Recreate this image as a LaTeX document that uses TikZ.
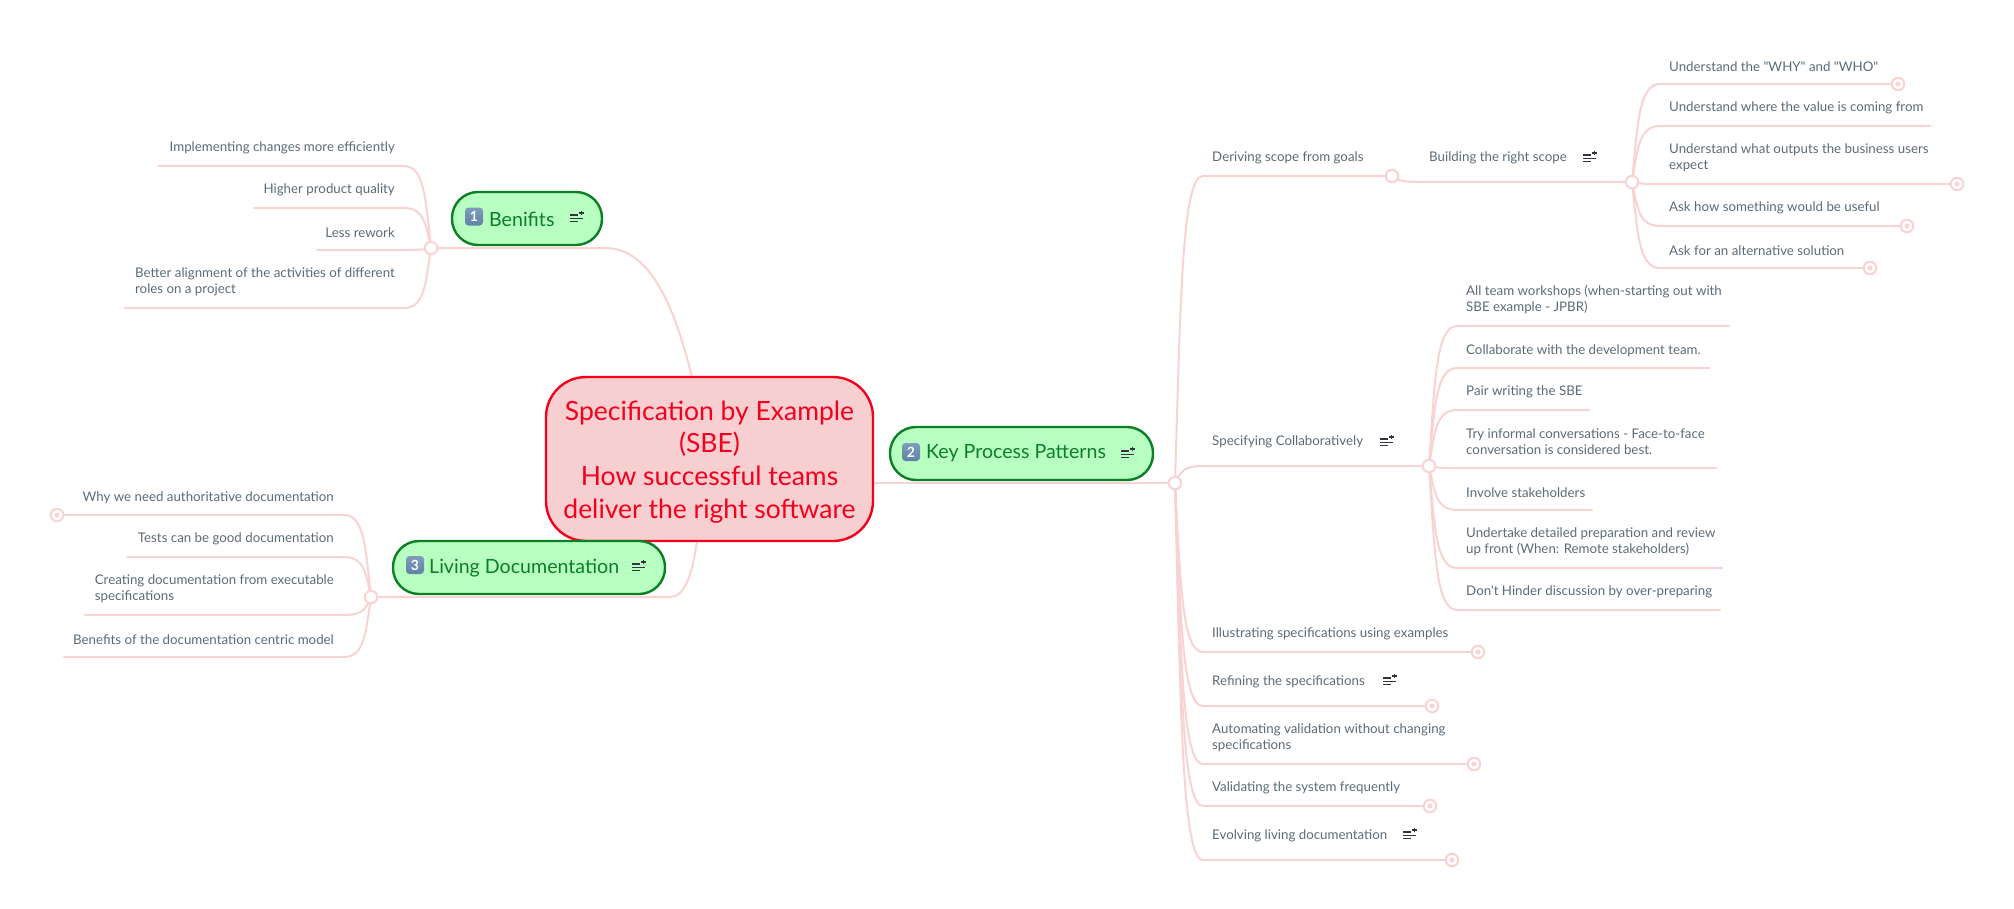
\documentclass[tikz,border=0pt]{standalone}
\usepackage{fontspec}
\setmainfont{Lato}
\newfontfamily\plainq{Lato}
\usetikzlibrary{calc,backgrounds}
\definecolor{linkpink}{HTML}{F9D2D2}
\definecolor{leafgrey}{HTML}{5B6B76}
\definecolor{rootfill}{HTML}{F8CFD1}
\definecolor{rootred}{HTML}{F2001E}
\definecolor{mainfill}{HTML}{B8FFC2}
\definecolor{maingreen}{HTML}{0B7F24}
\definecolor{icondark}{HTML}{33333F}
\definecolor{captop}{HTML}{7F9CBA}
\definecolor{capbot}{HTML}{5F82A6}
\tikzset{
  x=1pt,y=-1pt,
  link/.style={draw=linkpink,line width=2pt,line cap=round},
  hubnode/.style={circle,draw=linkpink,line width=2pt,fill=white,minimum size=12.5pt,inner sep=0pt},
  enddot/.style={circle,draw=linkpink,line width=2pt,fill=white,minimum size=12.5pt,inner sep=0pt},
  pip/.style={circle,fill=linkpink,minimum size=5pt,inner sep=0pt},
  leaftext/.style={font=\fontsize{13.3}{16}\selectfont,text=leafgrey,inner sep=0pt,align=left,yshift=-0.8pt},
  righttext/.style={leaftext,anchor=east,align=left},
  lefttext/.style={leaftext,anchor=west},
  rootnode/.style={draw=rootred,line width=2.4pt,fill=rootfill,rounded corners=40pt,
    minimum width=327pt,minimum height=164pt,inner sep=0pt},
  roottext/.style={text=rootred,align=center,inner sep=0pt,font=\fontsize{26.5}{32.8}\selectfont},
  mainnode/.style={draw=maingreen,line width=2.4pt,fill=mainfill,rounded corners=26pt,minimum height=53pt,inner sep=0pt},
  maintext/.style={text=maingreen,font=\fontsize{19.6}{24}\selectfont,inner sep=0pt,anchor=west},
  keycap/.style={rounded corners=3.5pt,top color=captop,bottom color=capbot,minimum size=18pt,inner sep=0pt,
    text=white,font=\fontsize{14}{14}\bfseries\selectfont},
}
% curved connector from a hub to the start of a branch
\newcommand{\conn}[2]{\begin{pgfonlayer}{background}
  \draw[link] let \p1=(#1.center),\p2=(#2) in (#1.center) .. controls ({\x1+0.2*(\x2-\x1)},{\y1+0.6*(\y2-\y1)}) and ({\x1+0.25*(\x2-\x1)},{\y2}) .. (#2);
\end{pgfonlayer}}
% note icon: three bars and a plus; #1 = left, #2 = top
\newcommand{\noteicon}[2]{%
  \draw[icondark,line width=1.3pt] (#1,#2+3) -- ++(8,0) (#1,#2+6.4) -- ++(13,0) (#1,#2+9.8) -- ++(8,0);
  \draw[icondark,line width=1.1pt] (#1+9.3,#2+1) -- ++(4.6,0) (#1+11.6,#2-1.3) -- ++(0,4.6);}
% branch under a text: #1 name, #2 hub, #3 x start, #4 x end, #5 y line
\newcommand{\branch}[5]{%
  \coordinate (#1s) at (#3,#5);
  \coordinate (#1e) at (#4,#5);
  \conn{#2}{#1s}
  \begin{pgfonlayer}{background}\draw[link] (#1s) -- (#1e);\end{pgfonlayer}}
\newcommand{\branchdot}[1]{\node[enddot] (#1d) at (#1e) {}; \node[pip] (#1p) at (#1e) {};}
\begin{document}
\begin{tikzpicture}
\useasboundingbox (0,0) rectangle (2014,908);
% main nodes
\node[rootnode] (root) at (709.5,459) {};
\node[roottext] (roott) at (709.5,462) {Specification by Example\\(SBE)\\How successful teams\\deliver the right software};
\node[mainnode,minimum width=150pt] (ben) at (527,218.5) {};
\node[mainnode,minimum width=263pt] (key) at (1021.5,453.5) {};
\node[mainnode,minimum width=272pt] (liv) at (529,567.5) {};
\node[keycap] (cap1) at (474,216.5) {1};
\node[keycap] (cap2) at (911,452) {2};
\node[keycap] (cap3) at (415,565) {3};
\node[maintext] (ben1) at (489,219) {Benifits};
\node[maintext] (key1) at (926,453) {Key Process Patterns};
\node[maintext] (liv1) at (429,568) {Living Documentation};
\noteicon{570}{212}
\noteicon{1121}{448}
\noteicon{632}{561}
% hubs
\node[hubnode] (hubB) at (431,248) {};
\node[hubnode] (hubL) at (371,597) {};
\node[hubnode] (hubK) at (1175,483) {};
\node[hubnode] (hubD) at (1392,176) {};
\node[hubnode] (hubS) at (1632,182) {};
\node[hubnode] (hubC) at (1429,466) {};
% root connectors
\coordinate (benA) at (605,248);
\coordinate (benB) at (692,377);
\coordinate (livA) at (670,597);
\coordinate (livB) at (697,541);
\begin{pgfonlayer}{background}
\draw[link] (hubB.center) -- (benA) .. controls (650,248) and (674,305) .. (benB);
\draw[link] (hubL.center) -- (livA) .. controls (684,597) and (692,577) .. (livB);
\draw[link] (root.east |- hubK) -- (hubK.center);
\end{pgfonlayer}
% Benifits leaves
\branch{b1}{hubB}{404}{158}{166}
\branch{b2}{hubB}{404}{254}{208}
\branch{b3}{hubB}{404}{317}{250}
\branch{b4}{hubB}{404}{125}{308}
\node[righttext] (tb1) at (395,147.5) {Implementing changes more efficiently};
\node[righttext] (tb2) at (395,189.5) {Higher product quality};
\node[righttext] (tb3) at (395,231.5) {Less rework};
\node[righttext] (tb4) at (395,281) {Better alignment of the activities of different\\roles on a project};
% Living leaves
\branch{l1}{hubL}{344}{57}{515}
\branch{l2}{hubL}{344}{127}{557}
\branch{l3}{hubL}{344}{85}{615}
\branch{l4}{hubL}{344}{64}{657}
\branchdot{l1}
\node[righttext] (tl1) at (334,496.5) {Why we need authoritative documentation};
\node[righttext] (tl2) at (334,538.5) {Tests can be good documentation};
\node[righttext] (tl3) at (334,588) {Creating documentation from executable\\specifications};
\node[righttext] (tl4) at (334,638.5) {Benefits of the documentation centric model};
% Key Process children
\branch{k1}{hubK}{1203}{1392}{176}
\branch{k2}{hubK}{1203}{1429}{466}
\branch{k3}{hubK}{1203}{1478}{652}
\branch{k4}{hubK}{1203}{1432}{706}
\branch{k5}{hubK}{1203}{1474}{764}
\branch{k6}{hubK}{1203}{1430}{806}
\branch{k7}{hubK}{1203}{1452}{860}
\branchdot{k3}\branchdot{k4}\branchdot{k5}\branchdot{k6}\branchdot{k7}
\node[lefttext] (tk1) at (1212,157.5) {Deriving scope from goals};
\node[lefttext] (tk2) at (1212,441.5) {Specifying Collaboratively};
\node[lefttext] (tk3) at (1212,633.5) {Illustrating specifications using examples};
\node[lefttext] (tk4) at (1212,681.5) {Refining the specifications};
\node[lefttext] (tk5) at (1212,737) {Automating validation without changing\\specifications};
\node[lefttext] (tk6) at (1212,787.5) {Validating the system frequently};
\node[lefttext] (tk7) at (1212,835.5) {Evolving living documentation};
\noteicon{1380}{436}
\noteicon{1383}{675}
\noteicon{1403}{829}
% Deriving -> Building
\coordinate (dA) at (1420,182);
\conn{hubD}{dA}
\begin{pgfonlayer}{background}\draw[link] (dA) -- (hubS.center);\end{pgfonlayer}
\node[lefttext] (tbu) at (1429,157.5) {Building the right scope};
\noteicon{1583}{152}
% Building leaves
\branch{s1}{hubS}{1660}{1898}{84}
\branch{s2}{hubS}{1660}{1930}{126}
\branch{s3}{hubS}{1660}{1957}{184}
\branch{s4}{hubS}{1660}{1907}{226}
\branch{s5}{hubS}{1660}{1870}{268}
\branchdot{s1}\branchdot{s3}\branchdot{s4}\branchdot{s5}
\node[lefttext] (ts1) at (1669,65.5) {{\plainq Understand the "WHY" and "WHO"}};
\node[lefttext] (ts2) at (1669,107.5) {Understand where the value is coming from};
\node[lefttext] (ts3) at (1669,157) {Understand what outputs the business users\\expect};
\node[lefttext] (ts4) at (1669,207.5) {Ask how something would be useful};
\node[lefttext] (ts5) at (1669,249.5) {Ask for an alternative solution};
% Collaboratively leaves
\branch{c1}{hubC}{1457}{1729}{326}
\branch{c2}{hubC}{1457}{1709}{368}
\branch{c3}{hubC}{1457}{1589}{410}
\branch{c4}{hubC}{1457}{1716}{468}
\branch{c5}{hubC}{1457}{1592}{510}
\branch{c6}{hubC}{1457}{1722}{568}
\branch{c7}{hubC}{1457}{1720}{610}
\node[lefttext] (tc1) at (1466,299) {All team workshops (when-starting out with\\SBE example - JPBR)};
\node[lefttext] (tc2) at (1466,349.5) {Collaborate with the development team.};
\node[lefttext] (tc3) at (1466,391.5) {Pair writing the SBE};
\node[lefttext] (tc4) at (1466,441) {Try informal conversations - Face-to-face\\conversation is considered best.};
\node[lefttext] (tc5) at (1466,491.5) {Involve stakeholders};
\node[lefttext] (tc6) at (1466,541) {Undertake detailed preparation and review\\up front (When: Remote stakeholders)};
\node[lefttext] (tc7) at (1466,591.5) {{\plainq Don't Hinder discussion by over-preparing}};
\end{tikzpicture}
\end{document}
